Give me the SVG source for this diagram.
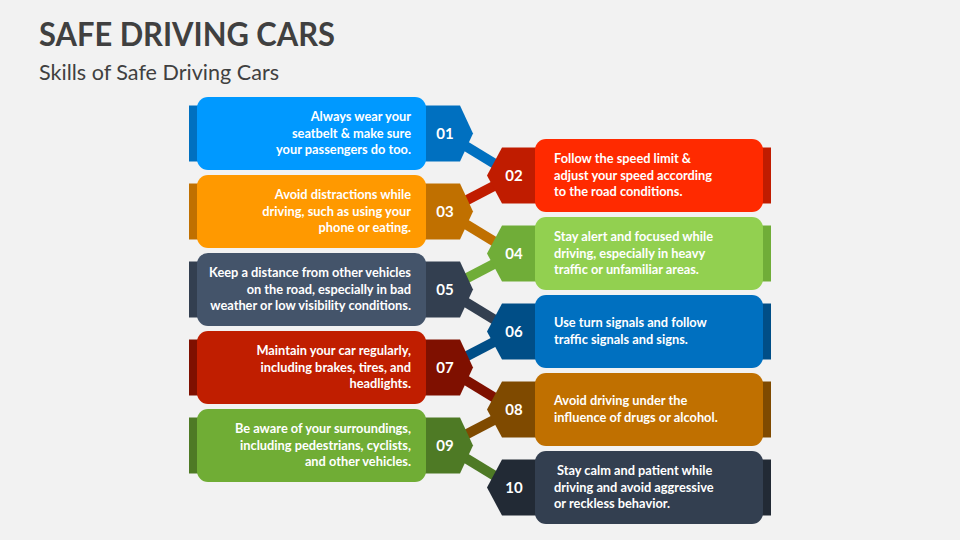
<svg xmlns="http://www.w3.org/2000/svg" width="960" height="540" viewBox="0 0 960 540">
<style>
.bg{fill:#F2F2F2}
.title{font-family:Lato,"Liberation Sans",sans-serif;font-weight:700;font-size:32px;fill:#404040}
.sub{font-family:Lato,"Liberation Sans",sans-serif;font-size:21px;fill:#404040}
.t{font-family:Lato,"Liberation Sans",sans-serif;font-weight:700;font-size:12.8px;fill:#FFFFFF}
.tl{text-anchor:end}
.num{font-family:Lato,"Liberation Sans",sans-serif;font-weight:700;font-size:15px;fill:#FFFFFF;text-anchor:middle}
.c{fill:none;stroke-width:10}
</style>
<rect class="bg" x="0" y="0" width="960" height="540"/>
<text class="title" x="39" y="46" textLength="296" lengthAdjust="spacingAndGlyphs">SAFE DRIVING CARS</text>
<text class="sub" x="39" y="80" textLength="240" lengthAdjust="spacingAndGlyphs">Skills of Safe Driving Cars</text>
<g id="connectors">
<line class="c" stroke="#0070C0" x1="445" y1="133.5" x2="514" y2="175.5"/>
<line class="c" stroke="#C01C00" x1="514" y1="175.5" x2="445" y2="211.5"/>
<line class="c" stroke="#C07000" x1="445" y1="211.5" x2="514" y2="253.5"/>
<line class="c" stroke="#70AD38" x1="514" y1="253.5" x2="445" y2="289.5"/>
<line class="c" stroke="#333F50" x1="445" y1="289.5" x2="514" y2="331.5"/>
<line class="c" stroke="#004E87" x1="514" y1="331.5" x2="445" y2="367.5"/>
<line class="c" stroke="#7F1000" x1="445" y1="367.5" x2="514" y2="409.5"/>
<line class="c" stroke="#7F4A00" x1="514" y1="409.5" x2="445" y2="445.5"/>
<line class="c" stroke="#4E7A25" x1="445" y1="445.5" x2="514" y2="487.5"/>
</g>
<g id="item01">
<polygon fill="#0070C0" points="189,105.5 460,105.5 473,133.5 460,161.5 189,161.5"/>
<rect fill="#0099FF" x="197" y="97" width="229" height="73" rx="11"/>
<text class="t tl" x="411" y="121">Always wear your</text>
<text class="t tl" x="411" y="137.5">seatbelt &amp; make sure</text>
<text class="t tl" x="411" y="154">your passengers do too.</text>
<text class="num" x="445" y="139">01</text>
</g>
<g id="item02">
<polygon fill="#C01C00" points="771,147.5 502,147.5 487,175.5 502,203.5 771,203.5"/>
<rect fill="#FF2A00" x="535" y="139" width="228" height="73" rx="11"/>
<text class="t" x="554" y="163">Follow the speed limit &amp;</text>
<text class="t" x="554" y="179.5">adjust your speed according</text>
<text class="t" x="554" y="196">to the road conditions.</text>
<text class="num" x="514" y="181">02</text>
</g>
<g id="item03">
<polygon fill="#C07000" points="189,183.5 460,183.5 473,211.5 460,239.5 189,239.5"/>
<rect fill="#FF9900" x="197" y="175" width="229" height="73" rx="11"/>
<text class="t tl" x="411" y="199">Avoid distractions while</text>
<text class="t tl" x="411" y="215.5">driving, such as using your</text>
<text class="t tl" x="411" y="232">phone or eating.</text>
<text class="num" x="445" y="217">03</text>
</g>
<g id="item04">
<polygon fill="#70AD38" points="771,225.5 502,225.5 487,253.5 502,281.5 771,281.5"/>
<rect fill="#92D050" x="535" y="217" width="228" height="73" rx="11"/>
<text class="t" x="554" y="241">Stay alert and focused while</text>
<text class="t" x="554" y="257.5">driving, especially in heavy</text>
<text class="t" x="554" y="274">traffic or unfamiliar areas.</text>
<text class="num" x="514" y="259">04</text>
</g>
<g id="item05">
<polygon fill="#333F50" points="189,261.5 460,261.5 473,289.5 460,317.5 189,317.5"/>
<rect fill="#44546A" x="197" y="253" width="229" height="73" rx="11"/>
<text class="t tl" x="411" y="277">Keep a distance from other vehicles</text>
<text class="t tl" x="411" y="293.5">on the road, especially in bad</text>
<text class="t tl" x="411" y="310">weather or low visibility conditions.</text>
<text class="num" x="445" y="295">05</text>
</g>
<g id="item06">
<polygon fill="#004E87" points="771,303.5 502,303.5 487,331.5 502,359.5 771,359.5"/>
<rect fill="#0070C0" x="535" y="295" width="228" height="73" rx="11"/>
<text class="t" x="554" y="327">Use turn signals and follow</text>
<text class="t" x="554" y="343.5">traffic signals and signs.</text>
<text class="num" x="514" y="337">06</text>
</g>
<g id="item07">
<polygon fill="#7F1000" points="189,339.5 460,339.5 473,367.5 460,395.5 189,395.5"/>
<rect fill="#C01E00" x="197" y="331" width="229" height="73" rx="11"/>
<text class="t tl" x="411" y="355">Maintain your car regularly,</text>
<text class="t tl" x="411" y="371.5">including brakes, tires, and</text>
<text class="t tl" x="411" y="388">headlights.</text>
<text class="num" x="445" y="373">07</text>
</g>
<g id="item08">
<polygon fill="#7F4A00" points="771,381.5 502,381.5 487,409.5 502,437.5 771,437.5"/>
<rect fill="#C07000" x="535" y="373" width="228" height="73" rx="11"/>
<text class="t" x="554" y="405">Avoid driving under the</text>
<text class="t" x="554" y="421.5">influence of drugs or alcohol.</text>
<text class="num" x="514" y="415">08</text>
</g>
<g id="item09">
<polygon fill="#4E7A25" points="189,417.5 460,417.5 473,445.5 460,473.5 189,473.5"/>
<rect fill="#70AD35" x="197" y="409" width="229" height="73" rx="11"/>
<text class="t tl" x="411" y="433">Be aware of your surroundings,</text>
<text class="t tl" x="411" y="449.5">including pedestrians, cyclists,</text>
<text class="t tl" x="411" y="466">and other vehicles.</text>
<text class="num" x="445" y="451">09</text>
</g>
<g id="item10">
<polygon fill="#222A35" points="771,459.5 502,459.5 487,487.5 502,515.5 771,515.5"/>
<rect fill="#333F50" x="535" y="451" width="228" height="73" rx="11"/>
<text class="t" x="557" y="475">Stay calm and patient while</text>
<text class="t" x="554" y="491.5">driving and avoid aggressive</text>
<text class="t" x="554" y="508">or reckless behavior.</text>
<text class="num" x="514" y="493">10</text>
</g>
</svg>
